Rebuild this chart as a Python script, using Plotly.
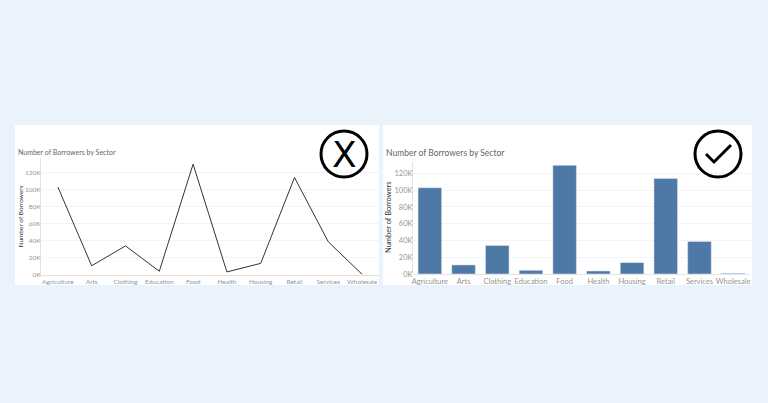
import plotly.graph_objects as go

# data
sectors = ['Agriculture', 'Arts', 'Clothing', 'Education', 'Food',
           'Health', 'Housing', 'Retail', 'Services', 'Wholesale']
borrowers = [102800, 10800, 34000, 4400, 129600, 3600, 13600, 114000, 38800, 800]
tick_vals = [0, 20000, 40000, 60000, 80000, 100000, 120000]
tick_text = ['0K', '20K', '40K', '60K', '80K', '100K', '120K']
chart_title = 'Number of Borrowers by Sector'
axis_title = 'Number of Borrowers'

W, H = 768, 403


def px(x):
    return x / W


def py(y):
    return 1 - y / H


fig = go.Figure()

# left: the wrong one, a line chart
fig.add_trace(go.Scatter(x=sectors, y=borrowers, mode='lines',
                         line={'color': '#333333', 'width': 1},
                         xaxis='x', yaxis='y', showlegend=False))
# right: the right one, a bar chart
fig.add_trace(go.Bar(x=sectors, y=borrowers, marker_color='#4E79A7',
                     xaxis='x2', yaxis='y2', showlegend=False))

font = 'Lato, Open Sans, sans-serif'
common_x = dict(type='category', range=[-0.5, 9.5], showgrid=False,
                showline=True, linecolor='#e4e4e4', ticks='', tickangle=0,
                automargin=False,
                tickfont=dict(color='#959595', family=font))
common_y = dict(tickvals=tick_vals, ticktext=tick_text, showgrid=True,
                gridcolor='#f3f3f3', zeroline=False, showline=True,
                linecolor='#e4e4e4', ticks='', automargin=False,
                ticklabelstandoff=-2,
                tickfont=dict(color='#959595', family=font))

fig.update_layout(
    width=W, height=H,
    margin=dict(l=0, r=0, t=0, b=0),
    paper_bgcolor='#EAF3FC',
    plot_bgcolor='rgba(0,0,0,0)',
    bargap=0.3,
    xaxis=dict(common_x, domain=[px(41), px(379)], anchor='y',
               tickfont_size=6.5),
    yaxis=dict(common_y, domain=[py(275), py(158)], anchor='x',
               range=[0, 136800], tickfont_size=6.5),
    xaxis2=dict(common_x, domain=[px(413), px(750)], anchor='y2',
                tickfont_size=7.5),
    yaxis2=dict(common_y, domain=[py(274), py(161.7)], anchor='x2',
                range=[0, 133900], tickfont_size=7.5),
)

# white panels behind both charts
for x0, x1 in [(15, 379), (383, 752)]:
    fig.add_shape(type='rect', xref='paper', yref='paper', layer='below',
                  x0=px(x0), x1=px(x1), y0=py(285), y1=py(125),
                  fillcolor='white', line_width=0)

# titles
fig.add_annotation(x=px(16), y=py(152), xref='paper', yref='paper',
                   text=chart_title, showarrow=False, xanchor='left',
                   font=dict(size=7, color='#666', family=font))
fig.add_annotation(x=px(384), y=py(153), xref='paper', yref='paper',
                   text=chart_title, showarrow=False, xanchor='left',
                   font=dict(size=8.5, color='#666', family=font))

# y axis titles, rotated
fig.add_annotation(x=px(19.5), y=py(217), xref='paper', yref='paper',
                   text=axis_title, showarrow=False, textangle=-90,
                   xanchor='center', yanchor='middle',
                   font=dict(size=6.5, color='#333', family=font))
fig.add_annotation(x=px(388), y=py(217), xref='paper', yref='paper',
                   text=axis_title, showarrow=False, textangle=-90,
                   xanchor='center', yanchor='middle',
                   font=dict(size=7.5, color='#333', family=font))

# icons: crossed circle and tick circle
for cx in [344, 718]:
    fig.add_shape(type='circle', xref='paper', yref='paper',
                  x0=px(cx - 23), x1=px(cx + 23), y0=py(177), y1=py(131),
                  line=dict(color='black', width=3))
fig.add_annotation(x=px(344), y=py(154), xref='paper', yref='paper',
                   text='X', showarrow=False,
                   xanchor='center', yanchor='middle',
                   font=dict(size=36, color='black', family='DejaVu Sans'))
fig.add_shape(type='path', xref='paper', yref='paper',
              path=f'M {px(706)} {py(154)} L {px(714)} {py(162)} L {px(731)} {py(145)}',
              line=dict(color='black', width=3))

fig.write_html('out.html', config={'displayModeBar': False},
               post_script="document.body.style.margin='0';"
                           "document.body.style.overflow='hidden';")
